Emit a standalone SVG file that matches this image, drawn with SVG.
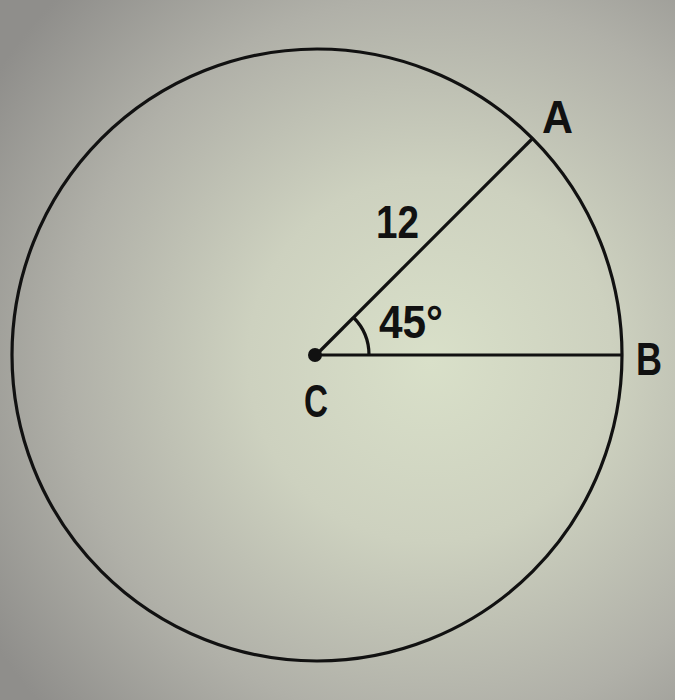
<svg xmlns="http://www.w3.org/2000/svg" width="675" height="700" viewBox="0 0 675 700">
<defs>
<radialGradient id="bg" gradientUnits="userSpaceOnUse" cx="430" cy="360" r="520">
<stop offset="0" stop-color="#d9e0c9"/>
<stop offset="0.35" stop-color="#cdd1bf"/>
<stop offset="0.7" stop-color="#b0b0a8"/>
<stop offset="1" stop-color="#8f8e8b"/>
</radialGradient>
<style>
.ln{fill:none;stroke:#111;stroke-width:3.2}
.lbl{font-family:"Liberation Sans",Arial,sans-serif;font-size:47px;font-weight:bold;fill:#111}
</style>
</defs>
<rect width="675" height="700" fill="url(#bg)"/>
<g id="circle"><ellipse class="ln" cx="317" cy="355" rx="305" ry="306"/></g>
<g id="connectors">
<line class="ln" x1="316" y1="355" x2="532" y2="139"/>
<line class="ln" x1="316" y1="355" x2="623" y2="355"/>
<path class="ln" d="M 353.5 317.5 A 53 53 0 0 1 369 355"/>
</g>
<g id="C"><circle cx="315" cy="355" r="7" fill="#111"/><text class="lbl" x="304" y="417" textLength="24" lengthAdjust="spacingAndGlyphs">C</text></g>
<g id="A"><text class="lbl" x="542" y="133" textLength="31" lengthAdjust="spacingAndGlyphs">A</text></g>
<g id="B"><text class="lbl" x="636" y="375" textLength="26" lengthAdjust="spacingAndGlyphs">B</text></g>
<g id="label12"><text class="lbl" x="376" y="238" textLength="43" lengthAdjust="spacingAndGlyphs">12</text></g>
<g id="angle"><text class="lbl" x="379" y="338" font-size="45" textLength="64" lengthAdjust="spacingAndGlyphs">45°</text></g>
</svg>
